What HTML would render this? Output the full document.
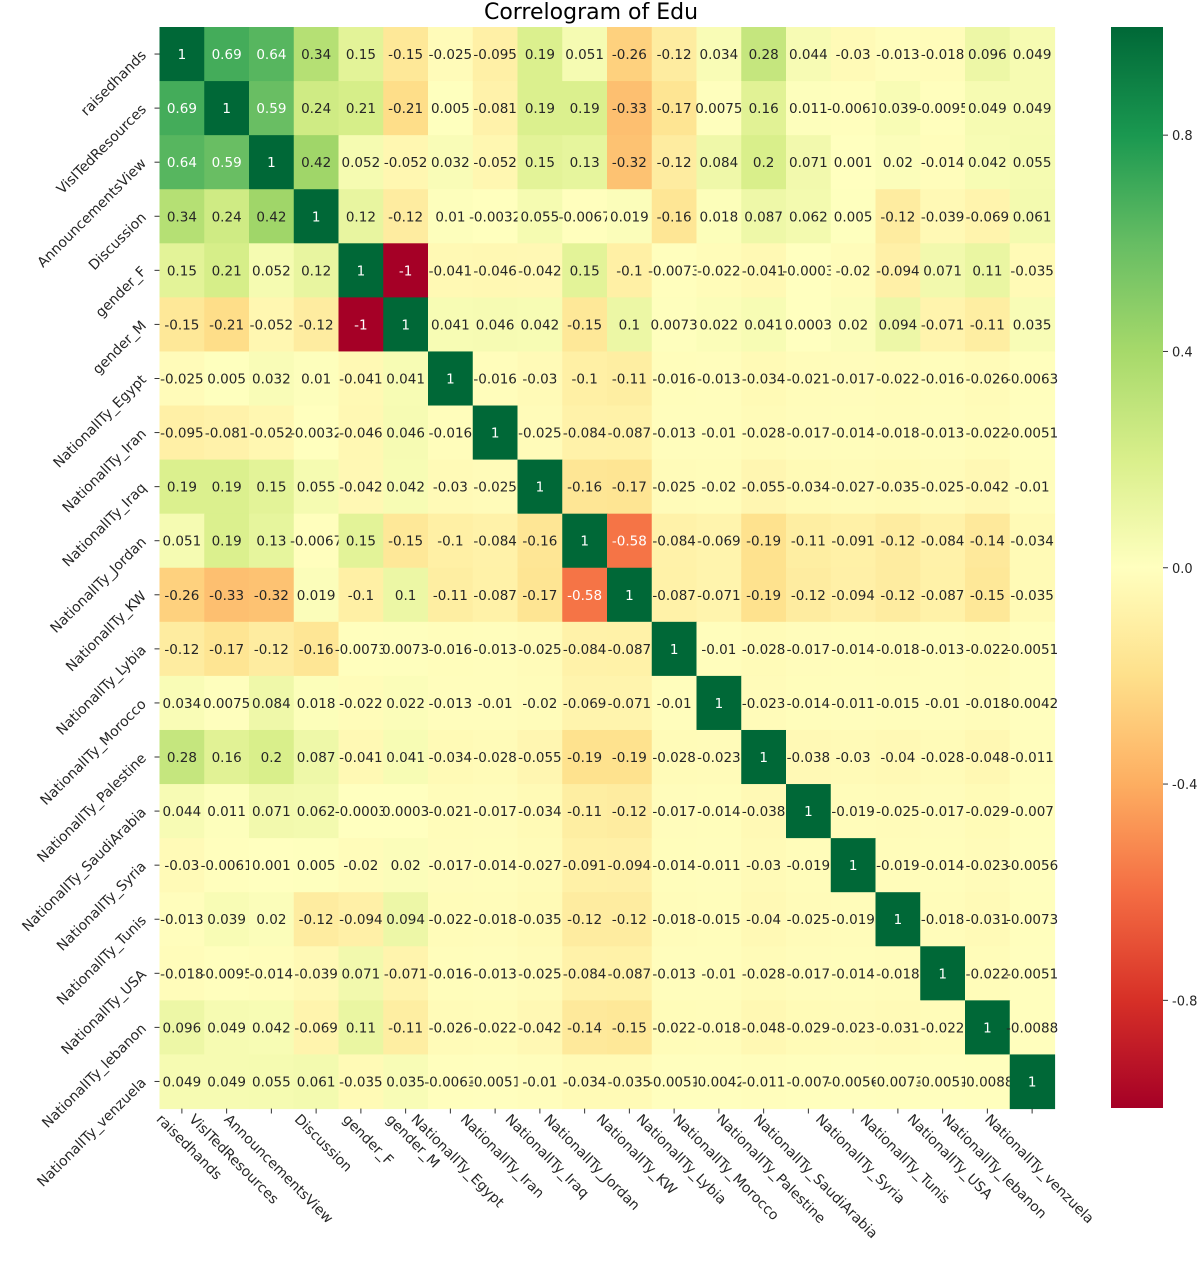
<!DOCTYPE html>
<html><head><meta charset="utf-8"><style>
body{margin:0;background:#fff;}
svg{display:block;font-family:"DejaVu Sans","Liberation Sans",sans-serif;}
</style></head><body>
<svg id="chart" width="1200" height="1267" viewBox="0 0 1200 1267" xmlns="http://www.w3.org/2000/svg">
<text x="591" y="19" font-size="22" text-anchor="middle" fill="#000">Correlogram of Edu</text>
<g id="cells"></g>
<g id="ylabels"></g>
<g id="xlabels"></g>
<defs><linearGradient id="cbgrad" x1="0" y1="1" x2="0" y2="0"></linearGradient></defs>
<rect x="1111" y="27" width="52" height="1081" fill="url(#cbgrad)"/>
<g id="cbticks"></g>
</svg>
<script>
const labels=["raisedhands","VisITedResources","AnnouncementsView","Discussion","gender_F","gender_M","NationalITy_Egypt","NationalITy_Iran","NationalITy_Iraq","NationalITy_Jordan","NationalITy_KW","NationalITy_Lybia","NationalITy_Morocco","NationalITy_Palestine","NationalITy_SaudiArabia","NationalITy_Syria","NationalITy_Tunis","NationalITy_USA","NationalITy_lebanon","NationalITy_venzuela"];
const corr=[
[1,0.69,0.64,0.34,0.15,-0.15,-0.025,-0.095,0.19,0.051,-0.26,-0.12,0.034,0.28,0.044,-0.03,-0.013,-0.018,0.096,0.049],
[0.69,1,0.59,0.24,0.21,-0.21,0.005,-0.081,0.19,0.19,-0.33,-0.17,0.0075,0.16,0.011,-0.0061,0.039,-0.0095,0.049,0.049],
[0.64,0.59,1,0.42,0.052,-0.052,0.032,-0.052,0.15,0.13,-0.32,-0.12,0.084,0.2,0.071,0.001,0.02,-0.014,0.042,0.055],
[0.34,0.24,0.42,1,0.12,-0.12,0.01,-0.0032,0.055,-0.0067,0.019,-0.16,0.018,0.087,0.062,0.005,-0.12,-0.039,-0.069,0.061],
[0.15,0.21,0.052,0.12,1,-1,-0.041,-0.046,-0.042,0.15,-0.1,-0.0073,-0.022,-0.041,-0.0003,-0.02,-0.094,0.071,0.11,-0.035],
[-0.15,-0.21,-0.052,-0.12,-1,1,0.041,0.046,0.042,-0.15,0.1,0.0073,0.022,0.041,0.0003,0.02,0.094,-0.071,-0.11,0.035],
[-0.025,0.005,0.032,0.01,-0.041,0.041,1,-0.016,-0.03,-0.1,-0.11,-0.016,-0.013,-0.034,-0.021,-0.017,-0.022,-0.016,-0.026,-0.0063],
[-0.095,-0.081,-0.052,-0.0032,-0.046,0.046,-0.016,1,-0.025,-0.084,-0.087,-0.013,-0.01,-0.028,-0.017,-0.014,-0.018,-0.013,-0.022,-0.0051],
[0.19,0.19,0.15,0.055,-0.042,0.042,-0.03,-0.025,1,-0.16,-0.17,-0.025,-0.02,-0.055,-0.034,-0.027,-0.035,-0.025,-0.042,-0.01],
[0.051,0.19,0.13,-0.0067,0.15,-0.15,-0.1,-0.084,-0.16,1,-0.58,-0.084,-0.069,-0.19,-0.11,-0.091,-0.12,-0.084,-0.14,-0.034],
[-0.26,-0.33,-0.32,0.019,-0.1,0.1,-0.11,-0.087,-0.17,-0.58,1,-0.087,-0.071,-0.19,-0.12,-0.094,-0.12,-0.087,-0.15,-0.035],
[-0.12,-0.17,-0.12,-0.16,-0.0073,0.0073,-0.016,-0.013,-0.025,-0.084,-0.087,1,-0.01,-0.028,-0.017,-0.014,-0.018,-0.013,-0.022,-0.0051],
[0.034,0.0075,0.084,0.018,-0.022,0.022,-0.013,-0.01,-0.02,-0.069,-0.071,-0.01,1,-0.023,-0.014,-0.011,-0.015,-0.01,-0.018,-0.0042],
[0.28,0.16,0.2,0.087,-0.041,0.041,-0.034,-0.028,-0.055,-0.19,-0.19,-0.028,-0.023,1,-0.038,-0.03,-0.04,-0.028,-0.048,-0.011],
[0.044,0.011,0.071,0.062,-0.0003,0.0003,-0.021,-0.017,-0.034,-0.11,-0.12,-0.017,-0.014,-0.038,1,-0.019,-0.025,-0.017,-0.029,-0.007],
[-0.03,-0.0061,0.001,0.005,-0.02,0.02,-0.017,-0.014,-0.027,-0.091,-0.094,-0.014,-0.011,-0.03,-0.019,1,-0.019,-0.014,-0.023,-0.0056],
[-0.013,0.039,0.02,-0.12,-0.094,0.094,-0.022,-0.018,-0.035,-0.12,-0.12,-0.018,-0.015,-0.04,-0.025,-0.019,1,-0.018,-0.031,-0.0073],
[-0.018,-0.0095,-0.014,-0.039,0.071,-0.071,-0.016,-0.013,-0.025,-0.084,-0.087,-0.013,-0.01,-0.028,-0.017,-0.014,-0.018,1,-0.022,-0.0051],
[0.096,0.049,0.042,-0.069,0.11,-0.11,-0.026,-0.022,-0.042,-0.14,-0.15,-0.022,-0.018,-0.048,-0.029,-0.023,-0.031,-0.022,1,-0.0088],
[0.049,0.049,0.055,0.061,-0.035,0.035,-0.0063,-0.0051,-0.01,-0.034,-0.035,-0.0051,-0.0042,-0.011,-0.007,-0.0056,-0.0073,-0.0051,-0.0088,1]
];
const cbTicks=[0.8,0.4,0.0,-0.4,-0.8];
const cbTickLabels=["0.8","0.4","0.0","-0.4","-0.8"];

const NS="http://www.w3.org/2000/svg";
const X0=159.5,X1=1054.5,Y0=27,Y1=1108.5;
const n=labels.length;
const cw=(X1-X0)/n, ch=(Y1-Y0)/n;
const xPos=i=>X0+i*cw, yPos=i=>Y0+i*ch;
const cbY=v=>Y1-(v+1)/2*(Y1-Y0);
const stops=[[165,0,38],[215,48,39],[244,109,67],[253,174,97],[254,224,139],[255,255,191],[217,239,139],[166,217,106],[102,189,99],[26,152,80],[0,104,55]];
function cmap(v){let t=(v+1)/2*10;t=Math.max(0,Math.min(10,t));const i=Math.min(9,Math.floor(t)),f=t-i;const a=stops[i],b=stops[i+1];return [0,1,2].map(k=>Math.round(a[k]+(b[k]-a[k])*f));}
function lum(c){const l=c.map(x=>{x/=255;return x<=0.03928?x/12.92:Math.pow((x+0.055)/1.055,2.4);});return 0.2126*l[0]+0.7152*l[1]+0.0722*l[2];}
function mk(tag,attrs,parent){const e=document.createElementNS(NS,tag);for(const k in attrs)e.setAttribute(k,attrs[k]);parent.appendChild(e);return e;}
function fmt(v){return String(Number(v.toPrecision(2)));}
const cells=document.getElementById('cells');
for(let r=0;r<n;r++)for(let c=0;c<n;c++){
 const v=corr[r][c],col=cmap(v);
 const rect=mk('rect',{x:xPos(c),y:yPos(r),width:cw+0.6,height:ch+0.6,fill:`rgb(${col})`},cells);
 
 
 const t=mk('text',{x:xPos(c)+cw/2,y:yPos(r)+ch/2+5,'font-size':13.5,'text-anchor':'middle',fill:lum(col)>0.408?'#262626':'#ffffff'},cells);
 
 
 t.textContent=fmt(v);
}
const yl=document.getElementById('ylabels'),xl=document.getElementById('xlabels');
for(let i=0;i<n;i++){
 const y=yPos(i)+ch/2;
 const tk=mk('line',{x1:X0-5,x2:X0,y1:y,y2:y,stroke:'#333','stroke-width':1},yl);
 
 
 const t=mk('text',{'font-size':14,'text-anchor':'end',fill:'#262626',transform:`translate(147,${y+2}) rotate(-45)`},yl);
 
 
 t.textContent=labels[i];
 const x=xPos(i)+cw/2;
 const tk2=mk('line',{x1:x,x2:x,y1:Y1,y2:Y1+5,stroke:'#333','stroke-width':1},xl);
 
 
 const t2=mk('text',{'font-size':14,'text-anchor':'middle',fill:'#262626'},xl);
 
 
 t2.textContent=labels[i];
 const L=t2.getComputedTextLength();
 t2.setAttribute('transform',`translate(${x+4},${1120+L*0.354}) rotate(45)`);
}
const g=document.getElementById('cbgrad');
for(let k=0;k<=20;k++){const v=-1+k/10;const col=cmap(v);mk('stop',{offset:(k/20),'stop-color':`rgb(${col})`},g);}
const cbt=document.getElementById('cbticks');
cbTicks.forEach((v,i)=>{
 const y=cbY(v);
 const l=mk('line',{x1:1163,x2:1168,y1:y,y2:y,stroke:'#333'},cbt);
 
 
 const t=mk('text',{x:1172,y:y+5,'font-size':13,fill:'#262626'},cbt);
 
 
 t.textContent=cbTickLabels[i];
});
</script>
</body></html>
